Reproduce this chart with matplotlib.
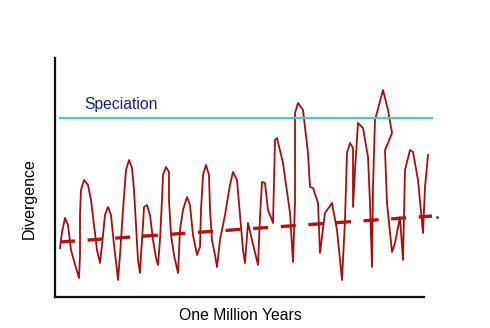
"""
Sketch of divergence between two populations over one million years,
with the speciation threshold and the slow upward trend.
"""

import matplotlib
matplotlib.use("Agg")
import matplotlib.pyplot as plt

# divergence wiggle (arbitrary units, time along x, divergence along y)
wiggle_t = [5, 7, 10, 13, 16, 21, 24, 25, 25, 26, 29, 33, 36, 39, 42, 45,
            47, 50, 53, 56, 59, 62, 63, 65, 68, 71, 74, 77, 79, 81, 83, 85,
            86, 88, 89, 92, 95, 98, 101, 103, 105, 107, 108, 111, 114, 114,
            116, 119, 123, 125, 128, 132, 135, 138, 142, 145, 146, 148, 151,
            154, 155, 157, 160, 162, 165, 170, 175, 178, 182, 185, 188, 190,
            193, 197, 203, 205, 207, 210, 213, 217, 218, 220, 222, 228, 235,
            238, 240, 240, 243, 248, 253, 255, 258, 263, 265, 270, 277, 282,
            287, 290, 292, 295, 298, 298, 300, 303, 308, 313, 315, 317, 318,
            320, 328, 333, 337, 333, 330, 332, 337, 340, 345, 348, 350, 355,
            358, 363, 368, 370, 373]
wiggle_d = [49, 65, 79, 72, 47, 29, 19, 42, 82, 107, 117, 112, 97, 72, 47, 34,
            52, 82, 90, 82, 52, 27, 17, 42, 87, 127, 137, 129, 107, 72, 37, 24,
            42, 72, 90, 92, 82, 57, 39, 32, 57, 97, 122, 130, 125, 97,
            62, 42, 24, 67, 87, 100, 92, 62, 42, 50, 87, 122, 132,
            122, 87, 57, 42, 30, 57, 82, 112, 125, 117, 82, 47, 34,
            74, 57, 32, 80, 115, 114, 87, 77, 74, 157, 159, 134, 84,
            35, 94, 184, 194, 187, 144, 110, 109, 94, 44, 84, 94, 67,
            17, 77, 144, 154, 149, 90, 127, 174, 169, 140, 94, 30, 110,
            177, 207, 187, 164, 154, 147, 94, 45, 54, 80, 37, 127, 147,
            145, 117, 64, 110, 142]

speciation_level = 179
speciation_span = [5, 377]
trend_t = [5, 377]
trend_d = [55, 81]
dot_t, dot_d = 382, 80

x_max, y_max = 369, 239


def main():
    fig = plt.figure(figsize=(4.9, 3.28), dpi=100)
    ax = fig.add_axes([55 / 490, 31 / 328, 369 / 490, 239 / 328])

    ax.plot(wiggle_t, wiggle_d, color="#a50e0e", lw=1.3,
            solid_joinstyle="round", clip_on=False)
    ax.plot(trend_t, trend_d, color="#b31212", lw=2.4,
            dashes=(4.5, 3.8), clip_on=False)
    ax.plot(speciation_span, [speciation_level] * 2, color="#45c8d6",
            lw=1.5, clip_on=False)
    ax.plot([dot_t], [dot_d], "o", color="#555555", ms=1.2, clip_on=False)

    ax.text(29, speciation_level + 6, "Speciation", color="#1c1c86",
            fontsize=11.3, family="Liberation Sans", va="bottom")

    ax.set_xlim(0, x_max)
    ax.set_ylim(0, y_max)
    ax.set_xticks([])
    ax.set_yticks([])
    for side in ["top", "right"]:
        ax.spines[side].set_visible(False)
    for side in ["left", "bottom"]:
        ax.spines[side].set_linewidth(1.6)
        ax.spines[side].set_color("#111111")

    fig.text(240 / 490, 1 - 315 / 328, "One Million Years", ha="center",
             va="center", fontsize=11.3, family="Liberation Sans")
    fig.text(29 / 490, 1 - 199 / 328, "Divergence", ha="center",
             va="center", rotation=90, fontsize=11.5,
             family="Liberation Sans")

    fig.savefig("out.png", dpi=100)


if __name__ == "__main__":
    main()
